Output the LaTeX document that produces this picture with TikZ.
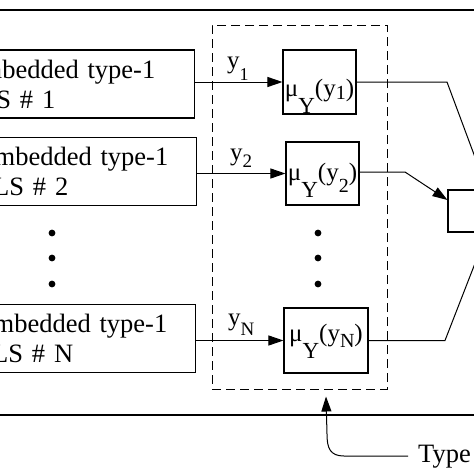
\documentclass[tikz,border=0pt]{standalone}
\usepackage{fontspec}
\setmainfont{Liberation Serif}
\usetikzlibrary{arrows.meta,calc}

\newcommand{\lowsub}[3]{\raisebox{-#1pt}{\fontsize{#2}{#2}\selectfont #3}}
\newcommand{\membtext}[2]{μ\lowsub{17}{23}{Y}(y\lowsub{#2}{20}{#1})}

\begin{document}
\begin{tikzpicture}[x=1pt,y=-1pt,
    fls/.style={draw, line width=1.1pt, anchor=east, align=left, inner xsep=13pt, inner ysep=0pt,
                minimum height=68pt, font=\fontsize{26.5}{30}\selectfont},
    memb/.style={draw, line width=1.1pt, minimum height=64pt, inner sep=0pt, font=\fontsize{25}{25}\selectfont},
    sig/.style={anchor=base west, inner sep=0pt, font=\fontsize{25}{25}\selectfont},
    flow/.style={line width=1pt, -{Triangle[length=15pt,width=10pt]}}]
    \useasboundingbox (0,0) rectangle (474,474);
    \clip (0,0) rectangle (474,474);
    \fill[white] (0,0) rectangle (474,474);

    % frame lines
    \draw[line width=1.6pt] (0,10) -- (474,10);
    \draw[line width=1.3pt] (0,415) -- (474,415);

    % embedded systems
    \node (fls1) [fls, text width=216pt] at (195,84) {Embedded type-1\\FLS \# 1};
    \node (fls2) [fls, text width=205pt] at (197,171.5) {Embedded type-1\\FLS \# 2};
    \node (flsn) [fls, text width=205pt] at (196,338.5) {Embedded type-1\\FLS \# N};

    % membership stage
    \node (fuzz) [draw, dash pattern=on 9pt off 5pt, line width=1pt, minimum width=175pt, minimum height=364pt] at (299.5,207) {};
    \node (mu1) [memb, minimum width=73pt, text height=30pt, text depth=2pt] at (319.5,82) {\membtext{1}{3}};
    \node (mu2) [memb, minimum width=73pt, minimum height=63pt, text height=17pt, text depth=4pt] at (322.5,173.5) {\membtext{2}{12}};
    \node (mun) [memb, minimum width=84pt, minimum height=65pt, text height=12pt, text depth=10pt] at (326,340.5) {\membtext{N}{6}};
    \node (mn) [draw, line width=1.1pt, minimum width=78pt, minimum height=42pt] at (487,211) {};

    \foreach \yy in {233,258,284} {
        \fill (52,\yy) circle (3.4pt);
        \fill (318,\yy) circle (3.4pt);
    }

    % signals
    \node (y1) [sig] at (227,68) {y\lowsub{12}{18}{1}};
    \node (y2) [sig] at (230,160) {y\lowsub{7}{19}{2}};
    \node (yn) [sig] at (228,325) {y\lowsub{10}{19}{N}};
    \draw[flow] (fls1.east |- mu1.west) -- (mu1.west);
    \draw[flow] (fls2.east |- mu2.west) -- (mu2.west);
    \draw[flow] (flsn.east |- mun.west) -- (mun.west);

    % outputs
    \coordinate (k1) at (447,82);
    \coordinate (k2) at (405,172);
    \coordinate (kn) at (445,340.5);
    \draw[flow] (mu1.east) -- (k1) -- (mn.north);
    \draw[flow] (mu2.east |- k2) -- (k2) -- ($(mn.west)+(0,-11)$);
    \draw[flow] (mun.east) -- (kn) -- (mn.south);

    % label
    \node (typ) [anchor=base west, inner sep=0pt, font=\fontsize{26.5}{30}\selectfont] at (418,462) {Type};
    \coordinate (aim) at ($(fuzz.south)+(26.5,7)$);
    \draw[flow] ($(typ.west)+(-10,0)$) -- (344,456) .. controls (330,456) and (327,448) .. (327,434) -- (aim);
\end{tikzpicture}
\end{document}
